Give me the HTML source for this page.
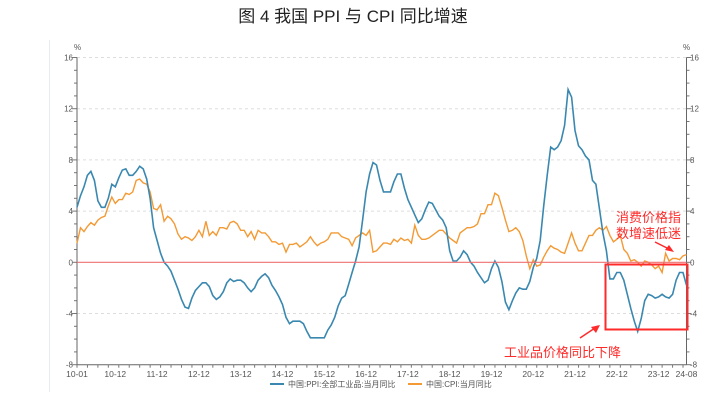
<!DOCTYPE html>
<html><head><meta charset="utf-8"><style>
body{margin:0;background:#fff;width:706px;height:400px;overflow:hidden;font-family:"Liberation Sans","Noto Sans CJK SC",sans-serif}
</style></head><body>
<svg id="s" width="706" height="400" xmlns="http://www.w3.org/2000/svg" font-family="Liberation Sans, Noto Sans CJK SC, sans-serif">
<text x="353" y="22" text-anchor="middle" font-size="17" fill="#222">图 4  我国 PPI 与 CPI 同比增速</text>
<line x1="49.5" y1="40" x2="49.5" y2="392" stroke="#e8ecf0"/>
<g id="g"></g>
<polyline id="cpi" fill="none" stroke="#f39a34" stroke-width="1.4"/>
<polyline id="ppi" fill="none" stroke="#3a88b0" stroke-width="1.6"/>
<line x1="77" y1="262.3" x2="686.5" y2="262.3" stroke="#f07070" stroke-width="1.2"/>
<rect x="605.5" y="264.5" width="82" height="65" fill="none" stroke="#ff2a2a" stroke-width="2"/>
<text x="616" y="222" font-size="13" fill="#ff2a2a">消费价格指</text>
<text x="616" y="238" font-size="13" fill="#ff2a2a">数增速低迷</text>
<line x1="655" y1="242" x2="671" y2="250" stroke="#ff2a2a" stroke-width="1.5"/><polygon points="674,252 665,250 669,245" fill="#ff2a2a"/>
<text x="504" y="357" font-size="13" fill="#ff2a2a">工业品价格同比下降</text>
<line x1="580" y1="338" x2="598" y2="326" stroke="#ff2a2a" stroke-width="1.5"/><polygon points="600,325 591,327 596,333" fill="#ff2a2a"/>
<line x1="270" y1="384" x2="284" y2="384" stroke="#3a88b0" stroke-width="2"/>
<text x="288" y="387" font-size="8" fill="#555">中国:PPI:全部工业品:当月同比</text>
<line x1="408" y1="384" x2="422" y2="384" stroke="#f39a34" stroke-width="2"/>
<text x="426" y="387" font-size="8" fill="#555">中国:CPI:当月同比</text>
</svg>
<script>
const P=[4.3,5.2,5.9,6.8,7.1,6.4,4.8,4.3,4.3,5.0,6.1,5.9,6.6,7.2,7.3,6.8,6.8,7.1,7.5,7.3,6.5,5.0,2.7,1.7,0.7,0.0,-0.3,-0.7,-1.4,-2.1,-2.9,-3.5,-3.6,-2.8,-2.2,-1.9,-1.6,-1.6,-1.9,-2.6,-2.9,-2.7,-2.3,-1.6,-1.3,-1.5,-1.4,-1.4,-1.6,-2.0,-2.3,-2.0,-1.4,-1.1,-0.9,-1.2,-1.8,-2.2,-2.7,-3.3,-4.3,-4.8,-4.6,-4.6,-4.6,-4.8,-5.4,-5.9,-5.9,-5.9,-5.9,-5.9,-5.3,-4.9,-4.3,-3.4,-2.8,-2.6,-1.7,-0.8,0.1,1.2,3.3,5.5,6.9,7.8,7.6,6.4,5.5,5.5,5.5,6.3,6.9,6.9,5.8,4.9,4.3,3.7,3.1,3.4,4.1,4.7,4.6,4.1,3.6,3.3,2.7,0.9,0.1,0.1,0.4,0.9,0.6,0.0,-0.3,-0.8,-1.2,-1.6,-1.4,-0.5,0.1,-0.4,-1.5,-3.1,-3.7,-3.0,-2.4,-2.0,-2.1,-2.1,-1.5,-0.4,0.3,1.7,4.4,6.8,9.0,8.8,9.0,9.5,10.7,13.5,12.9,10.3,9.1,8.8,8.3,8.0,6.4,6.1,4.2,2.3,0.9,-1.3,-1.3,-0.8,-0.8,-1.4,-2.5,-3.6,-4.6,-5.4,-4.4,-3.0,-2.5,-2.6,-2.8,-2.7,-2.5,-2.7,-2.8,-2.5,-1.4,-0.8,-0.8,-1.8];
const C=[1.5,2.7,2.4,2.8,3.1,2.9,3.3,3.5,3.6,4.4,5.1,4.6,4.9,4.9,5.4,5.3,5.5,6.4,6.5,6.2,6.1,5.5,4.2,4.1,4.5,3.2,3.6,3.4,3.0,2.2,1.8,2.0,1.9,1.7,2.0,2.5,2.0,3.2,2.1,2.4,2.1,2.7,2.7,2.6,3.1,3.2,3.0,2.5,2.5,2.0,2.4,1.8,2.5,2.3,2.3,2.0,1.6,1.6,1.4,1.5,0.8,1.4,1.4,1.5,1.2,1.4,1.6,2.0,1.6,1.3,1.5,1.6,1.8,2.3,2.3,2.3,2.0,1.9,1.8,1.3,1.9,2.1,2.3,2.1,2.5,0.8,0.9,1.2,1.5,1.5,1.4,1.8,1.6,1.9,1.7,1.8,1.5,2.9,2.1,1.8,1.8,1.9,2.1,2.3,2.5,2.5,2.2,1.9,1.7,1.5,2.3,2.5,2.7,2.7,2.8,3.0,3.8,3.8,4.5,4.5,5.4,5.2,4.3,3.3,2.4,2.5,2.7,2.4,1.7,0.5,-0.5,0.2,-0.3,-0.2,0.4,0.9,1.3,1.1,1.0,0.8,0.7,1.5,2.3,1.5,0.9,0.9,1.5,2.1,2.1,2.5,2.7,2.5,2.8,2.1,1.6,1.8,2.1,1.0,0.7,0.1,0.2,0.0,-0.3,0.1,0.0,-0.2,-0.5,-0.3,-0.8,0.7,0.1,0.3,0.3,0.2,0.5,0.6];
const X=i=>77+i*609.5/175, Y=v=>262.3-v*12.8;
document.getElementById('ppi').setAttribute('points',P.map((v,i)=>X(i).toFixed(1)+','+Y(v).toFixed(1)).join(' '));
document.getElementById('cpi').setAttribute('points',C.map((v,i)=>X(i).toFixed(1)+','+Y(v).toFixed(1)).join(' '));
let h='';
for(let v=-8;v<=16;v+=4){const y=Y(v);if(v!=0&&v!=-8)h+=`<line x1="77" y1="${y}" x2="686.5" y2="${y}" stroke="#ddd" stroke-dasharray="3,3"/>`;
h+=`<text x="73" y="${y+3}" font-size="8" fill="#555" text-anchor="end">${v}</text><text x="690" y="${y+3}" font-size="8" fill="#555">${v}</text>`;}
for(let v=-8;v<=16;v+=1){const y=Y(v);h+=`<line x1="${v%4?74:72}" y1="${y}" x2="77" y2="${y}" stroke="#777"/><line x1="686.5" y1="${y}" x2="${v%4?689.5:691.5}" y2="${y}" stroke="#777"/>`;}
h+=`<line x1="77" y1="${Y(16)}" x2="77" y2="${Y(-8)}" stroke="#666"/><line x1="686.5" y1="${Y(16)}" x2="686.5" y2="${Y(-8)}" stroke="#666"/><line x1="77" y1="${Y(-8)}" x2="686.5" y2="${Y(-8)}" stroke="#666"/>`;
h+=`<text x="74" y="50" font-size="8" fill="#555">%</text><text x="683" y="50" font-size="8" fill="#555">%</text>`;
for(let i=0;i<=175;i+=3)h+=`<line x1="${X(i)}" y1="${Y(-8)}" x2="${X(i)}" y2="${Y(-8)+3}" stroke="#777"/>`;
const L=[[0,'10-01']];for(let k=0;k<14;k++)L.push([11+12*k,(10+k)+'-12']);L.push([175,'24-08']);
L.forEach(([i,t])=>{h+=`<text x="${X(i)}" y="377" font-size="8.5" fill="#555" text-anchor="middle">${t}</text>`;});
document.getElementById('g').innerHTML=h;
</script>
</body></html>
